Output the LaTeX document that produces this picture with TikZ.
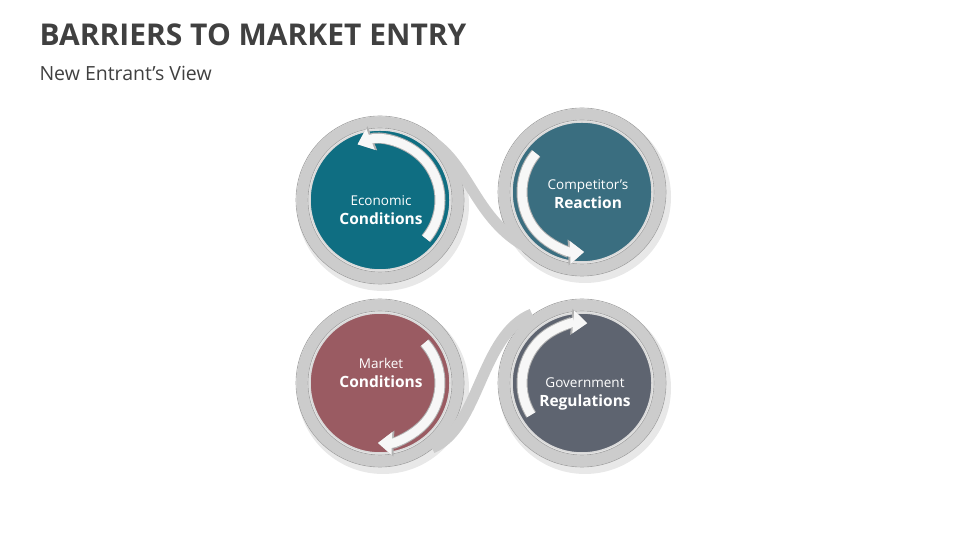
\documentclass[tikz,border=0pt]{standalone}
\usepackage{fontspec}
\setmainfont{Open Sans}
\usetikzlibrary{arrows.meta}
\definecolor{tc}{HTML}{404040}
\definecolor{c1}{HTML}{0F6E82}
\definecolor{c2}{HTML}{3A6E80}
\definecolor{c3}{HTML}{9A5B62}
\definecolor{c4}{HTML}{5E6470}
\tikzset{
 ringc/.style={draw=gray!40,line width=11pt},
 ringo/.style={draw=gray!75,line width=0.6pt},
 disk/.style={circle,minimum size=140pt,inner sep=0pt,draw=white!70!gray,line width=1.5pt},
 sband/.style={draw=gray!40,line width=11pt},
 arr/.style={draw=white!94!gray,line width=9pt,-{Triangle[width=22pt,length=14pt]}},
 arro/.style={draw=gray!60,line width=11pt,-{Triangle[width=25pt,length=16pt]}},
 lab/.style={text=white,align=center,font=\fontsize{13.5}{19}\selectfont}
}
\begin{document}
\begin{tikzpicture}[x=1pt,y=1pt]
\useasboundingbox (0,0) rectangle (960,540);
\node[anchor=west,text=tc,font=\fontsize{30}{34}\selectfont\bfseries] (title) at (36,505) {BARRIERS TO MARKET ENTRY};
\node[anchor=west,text=tc,font=\fontsize{19.5}{22}\selectfont] (sub) at (36,467) {New Entrant’s View};
\coordinate (A) at (380,340);
\coordinate (B) at (582,348);
\coordinate (C) at (380,157);
\coordinate (D) at (582,157);
\foreach \p in {A,B,C,D}{
 \fill[gray!18] (\p)++(3,-5) circle (86);
 \draw[ringc] (\p) circle (78);
 \draw[ringo] (\p) circle (84);
 \draw[ringo] (\p) circle (72);
}
\draw[sband] (430,400) .. controls (470,375) and (475,320) .. (528,292);
\draw[sband] (432,92) .. controls (480,112) and (480,205) .. (532,226);
\node[disk,fill=c1] (e) at (A) {};
\node[disk,fill=c2] (f) at (B) {};
\node[disk,fill=c3] (g) at (C) {};
\node[disk,fill=c4] (h) at (D) {};
\draw[arro] (A) ++(-40:60) arc (-40:112:60);
\draw[arr] (A) ++(-40:60) arc (-40:112:60);
\draw[arro] (B) ++(140:60) arc (140:272:60);
\draw[arr] (B) ++(140:60) arc (140:272:60);
\draw[arro] (C) ++(42:60) arc (42:-92:60);
\draw[arr] (C) ++(42:60) arc (42:-92:60);
\draw[arro] (D) ++(212:60) arc (212:85:60);
\draw[arr] (D) ++(212:60) arc (212:85:60);
\node[lab] (le) at (381,330) {Economic\\{\fontsize{15.5}{19}\selectfont\bfseries Conditions}};
\node[lab] (lf) at (588,346) {Competitor’s\\{\fontsize{15.5}{19}\selectfont\bfseries Reaction}};
\node[lab] (lg) at (381,167) {Market\\{\fontsize{15.5}{19}\selectfont\bfseries Conditions}};
\node[lab] (lh) at (585,146) {Government\\{\fontsize{15.5}{19}\selectfont\bfseries Regulations}};
\end{tikzpicture}
\end{document}
